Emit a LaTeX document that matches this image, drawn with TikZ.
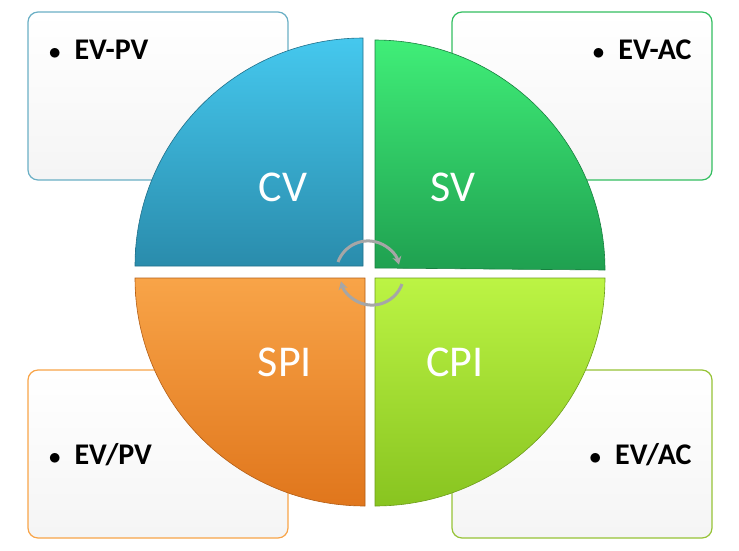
\documentclass[tikz,border=0pt]{standalone}
\usepackage{fontspec}
\setmainfont{Carlito}
\usetikzlibrary{arrows.meta}
\definecolor{cvA}{HTML}{45C8EE}\definecolor{cvB}{HTML}{2A8CAC}
\definecolor{svA}{HTML}{40EE78}\definecolor{svB}{HTML}{1FA050}
\definecolor{spA}{HTML}{F8A448}\definecolor{spB}{HTML}{E0761C}
\definecolor{cpA}{HTML}{BCF444}\definecolor{cpB}{HTML}{88C420}
\tikzset{
 infobox/.style={rounded corners=10pt, line width=1.2pt, top color=white, bottom color=black!4},
 quad/.style={line width=0.6pt},
 qlabel/.style={text=white, font=\fontsize{44}{44}\selectfont},
 blabel/.style={font=\bfseries\fontsize{30}{30}\selectfont, anchor=west},
 cyc/.style={draw=black!35, line width=3pt, -{Stealth[length=8pt,width=9pt]}}
}
\begin{document}
\begin{tikzpicture}[x=1pt,y=-1pt]
\useasboundingbox (0,0) rectangle (739,550);
\draw[infobox, draw=cvB!70] (28,12) rectangle (288,180);
\draw[infobox, draw=svA!80!black] (452,12) rectangle (712,180);
\draw[infobox, draw=spA] (28,370) rectangle (288,538);
\draw[infobox, draw=cpA!80!black] (452,370) rectangle (712,538);
\node[blabel] (t1) at (45,50) {$\bullet$\ \ EV-PV};
\node[blabel, anchor=east] (t2) at (695,50) {$\bullet$\ \ EV-AC};
\node[blabel] (t3) at (45,455) {$\bullet$\ \ EV/PV};
\node[blabel, anchor=east] (t4) at (695,455) {$\bullet$\ \ EV/AC};
\draw[quad, draw=cvB!80!black, top color=cvA, bottom color=cvB] (363,266) -- (135,266) arc[start angle=180,end angle=90,x radius=228,y radius=-228] -- cycle;
\draw[quad, draw=svB!80!black, top color=svA, bottom color=svB] (375,268) -- (375,40) arc[start angle=90,end angle=0,x radius=230,y radius=-230] -- cycle;
\draw[quad, draw=spB!80!black, top color=spA, bottom color=spB] (365,278) -- (135,278) arc[start angle=180,end angle=270,x radius=230,y radius=-228] -- cycle;
\draw[quad, draw=cpB!80!black, top color=cpA, bottom color=cpB] (375,278) -- (605,278) arc[start angle=0,end angle=-90,x radius=230,y radius=-228] -- cycle;
\node[qlabel] (cv) at (283,187) {CV};
\node[qlabel] (sv) at (453,187) {SV};
\node[qlabel] (spi) at (285,362) {SPI};
\node[qlabel] (cpi) at (455,362) {CPI};
\coordinate (a1) at (338,262);
\coordinate (a2) at (402,284);
\draw[cyc] (a1) arc[start angle=160,end angle=15,x radius=32,y radius=-32];
\draw[cyc] (a2) arc[start angle=-20,end angle=-165,x radius=32,y radius=-32];
\end{tikzpicture}
\end{document}
